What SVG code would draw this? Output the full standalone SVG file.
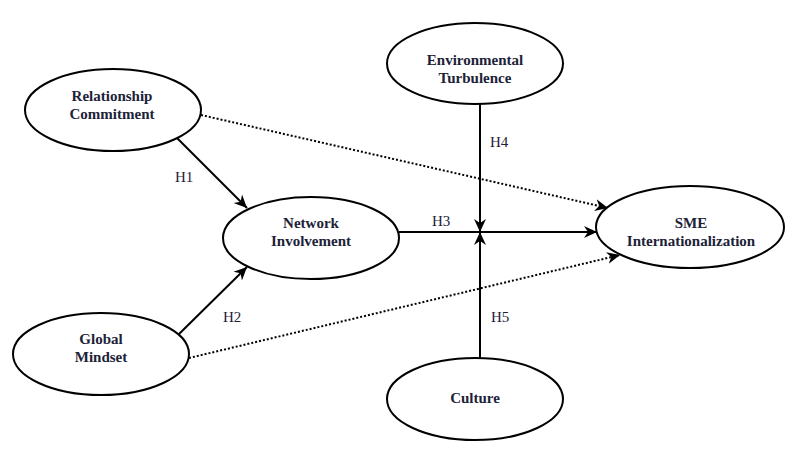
<svg xmlns="http://www.w3.org/2000/svg" width="793" height="452" viewBox="0 0 793 452">
<style>
.node ellipse{fill:#fff;stroke:#000;stroke-width:2}
.node text{font-family:"Liberation Serif","Times New Roman",serif;font-weight:bold;font-size:15px;fill:#1c2238;text-anchor:middle}
.lab{font-family:"Liberation Serif","Times New Roman",serif;font-size:15px;fill:#1c2238}
.solid{stroke:#000;stroke-width:2;fill:none}
.dot{stroke:#000;stroke-width:2;fill:none;stroke-dasharray:2 2}
</style>
<defs>
<marker id="arr" markerUnits="userSpaceOnUse" markerWidth="14" markerHeight="14" viewBox="0 0 14 14" refX="13" refY="7" orient="auto">
<path d="M0,1 L13,7 L0,13 L4,7 z" fill="#000"/>
</marker>
</defs>
<rect width="793" height="452" fill="#fff"/>
<g id="connectors">
<line class="solid" x1="177" y1="138" x2="247" y2="208" marker-end="url(#arr)"/>
<line class="solid" x1="178" y1="335" x2="247" y2="267" marker-end="url(#arr)"/>
<line class="solid" x1="399" y1="232" x2="597" y2="232" marker-end="url(#arr)"/>
<line class="solid" x1="480" y1="104" x2="480" y2="232" marker-end="url(#arr)"/>
<line class="solid" x1="480" y1="358" x2="480" y2="232" marker-end="url(#arr)"/>
<line class="dot" x1="201" y1="115" x2="608" y2="208" marker-end="url(#arr)"/>
<line class="dot" x1="189" y1="358" x2="620" y2="255" marker-end="url(#arr)"/>
<text class="lab" x="175" y="182">H1</text>
<text class="lab" x="223" y="322">H2</text>
<text class="lab" x="432" y="226">H3</text>
<text class="lab" x="490" y="147">H4</text>
<text class="lab" x="491" y="322">H5</text>
</g>
<g id="relationship-commitment" class="node">
<ellipse cx="113" cy="110" rx="88" ry="41"/>
<text x="112" y="101">Relationship</text>
<text x="112" y="119">Commitment</text>
</g>
<g id="network-involvement" class="node">
<ellipse cx="311" cy="238" rx="88" ry="41"/>
<text x="311" y="228">Network</text>
<text x="311" y="246">Involvement</text>
</g>
<g id="environmental-turbulence" class="node">
<ellipse cx="475" cy="63.5" rx="88" ry="40.5"/>
<text x="475" y="65">Environmental</text>
<text x="475" y="83">Turbulence</text>
</g>
<g id="sme-internationalization" class="node">
<ellipse cx="690" cy="227" rx="94" ry="41"/>
<text x="691" y="228">SME</text>
<text x="691" y="246">Internationalization</text>
</g>
<g id="global-mindset" class="node">
<ellipse cx="101" cy="354" rx="88" ry="41"/>
<text x="101" y="344">Global</text>
<text x="101" y="362">Mindset</text>
</g>
<g id="culture" class="node">
<ellipse cx="475" cy="399" rx="88" ry="41"/>
<text x="475" y="403">Culture</text>
</g>
</svg>
